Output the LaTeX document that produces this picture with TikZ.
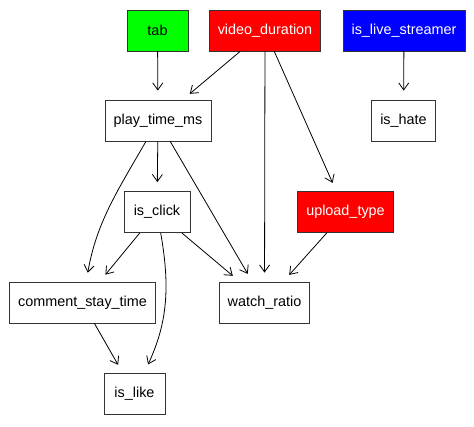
\documentclass[tikz,border=0pt]{standalone}
\usepackage{fontspec}
\setmainfont{Liberation Sans}
\usetikzlibrary{arrows.meta}
\tikzset{
  var/.style = {draw = black!80, line width = 0.8pt, rectangle, minimum width = 61pt, minimum height = 41pt, inner xsep = 8.5pt, font = \fontsize{14.4}{17}\selectfont},
  link/.style = {-{Straight Barb[length = 7pt, width = 10pt]}, line width = 0.8pt, shorten > = 9pt}
}

\begin{document}
\begin{tikzpicture}[x = 1pt, y = -1pt]
\useasboundingbox (0,0) rectangle (474,426);
\node [var, fill = green] (tab) at (157.5,30.5) {tab};
\node [var, fill = red, text = white] (duration) at (265,30.5) {video\_duration};
\node [var, fill = blue, text = white] (streamer) at (404,30.5) {is\_live\_streamer};
\node [var] (playtime) at (158,120.5) {play\_time\_ms};
\node [var] (hate) at (403.5,120.5) {is\_hate};
\node [var, minimum width = 66pt] (click) at (157,212) {is\_click};
\node [var, fill = red, text = white] (upload) at (345.5,212) {upload\_type};
\node [var] (stay) at (82.5,302.5) {comment\_stay\_time};
\node [var] (ratio) at (264.5,302.5) {watch\_ratio};
\node [var] (like) at (134.5,393.5) {is\_like};
\draw [link] (tab) -- (playtime);
\draw [link] (duration) -- (playtime);
\draw [link] (duration) -- (ratio);
\draw [link] (duration) -- (upload);
\draw [link] (streamer) -- (hate);
\draw [link] (playtime) -- (click);
\draw [link] (playtime) to [out = -120, in = 80] (stay);
\draw [link] (playtime) -- (ratio);
\draw [link] (click) -- (stay);
\draw [link] (click) -- (ratio);
\draw [link] (click) to [out = -80, in = 65] (like);
\draw [link] (upload) -- (ratio);
\draw [link] (stay) -- (like);
\end{tikzpicture}
\end{document}
